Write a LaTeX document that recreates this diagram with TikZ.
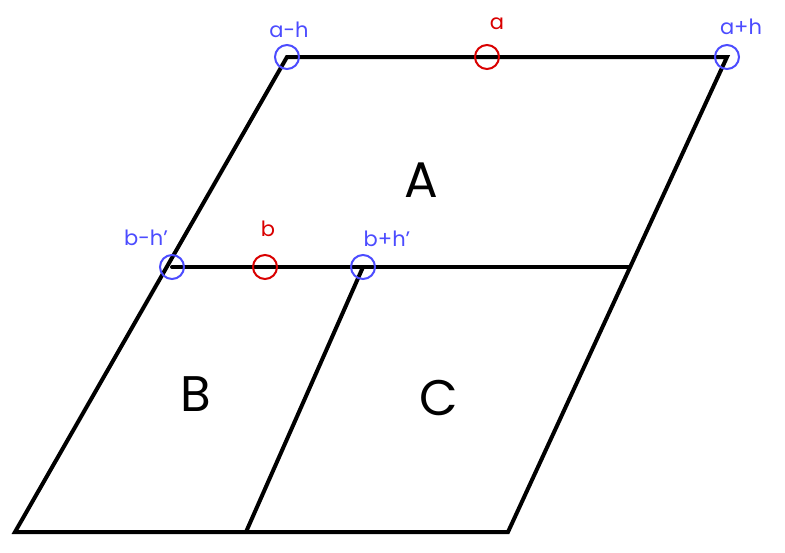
\documentclass[tikz,border=0pt]{standalone}
\usepackage{fontspec}
\setmainfont{Poppins}
\usetikzlibrary{positioning}
\tikzset{
  edge/.style={line width=4pt, line cap=round, line join=miter},
  bluering/.style={draw=blue!70!white, circle, line width=2pt, minimum size=24pt, inner sep=0pt},
  redring/.style={draw=red!85!black, circle, line width=2pt, minimum size=24pt, inner sep=0pt},
  bluelab/.style={text=blue!70!white, font=\fontsize{21}{21}\selectfont},
  redlab/.style={text=red!85!black, font=\fontsize{21}{21}\selectfont},
  biglab/.style={font=\fontsize{50}{50}\selectfont}
}
\begin{document}
\begin{tikzpicture}[x=1pt, y=-1pt]
	\useasboundingbox (0,0) rectangle (785,552);
	% corners and inner points
	\coordinate (tl) at (287,57);
	\coordinate (tr) at (727,57);
	\coordinate (br) at (508,532);
	\coordinate (bl) at (15,532);
	\coordinate (ml) at (172,267);
	\coordinate (mr) at (629,267);
	\coordinate (mi) at (363,267);
	\coordinate (bi) at (246,532);

	\draw[edge] (tl) -- (tr) -- (br) -- (bl) -- cycle;
	\draw[edge] (ml) -- (mr);
	\draw[edge] (mi) -- (bi);

	\node[bluering] (ah1) at (tl) {};
	\node[redring] (a) at (487,57) {};
	\node[bluering] (ah2) at (tr) {};
	\node[bluering] (bh1) at (ml) {};
	\node[redring] (b) at (265,267) {};
	\node[bluering] (bh2) at (mi) {};

	\node[bluelab] at (289,30) {a-h};
	\node[redlab] at (497,24) {a};
	\node[bluelab] at (741,27) {a+h};
	\node[bluelab] at (146,238) {b-h'};
	\node[redlab] at (268,229) {b};
	\node[bluelab] at (387,239) {b+h'};

	\node[biglab] (A) at (421,180) {A};
	\node[biglab] (B) at (196,394) {B};
	\node[biglab] (C) at (439,398) {C};
\end{tikzpicture}
\end{document}
